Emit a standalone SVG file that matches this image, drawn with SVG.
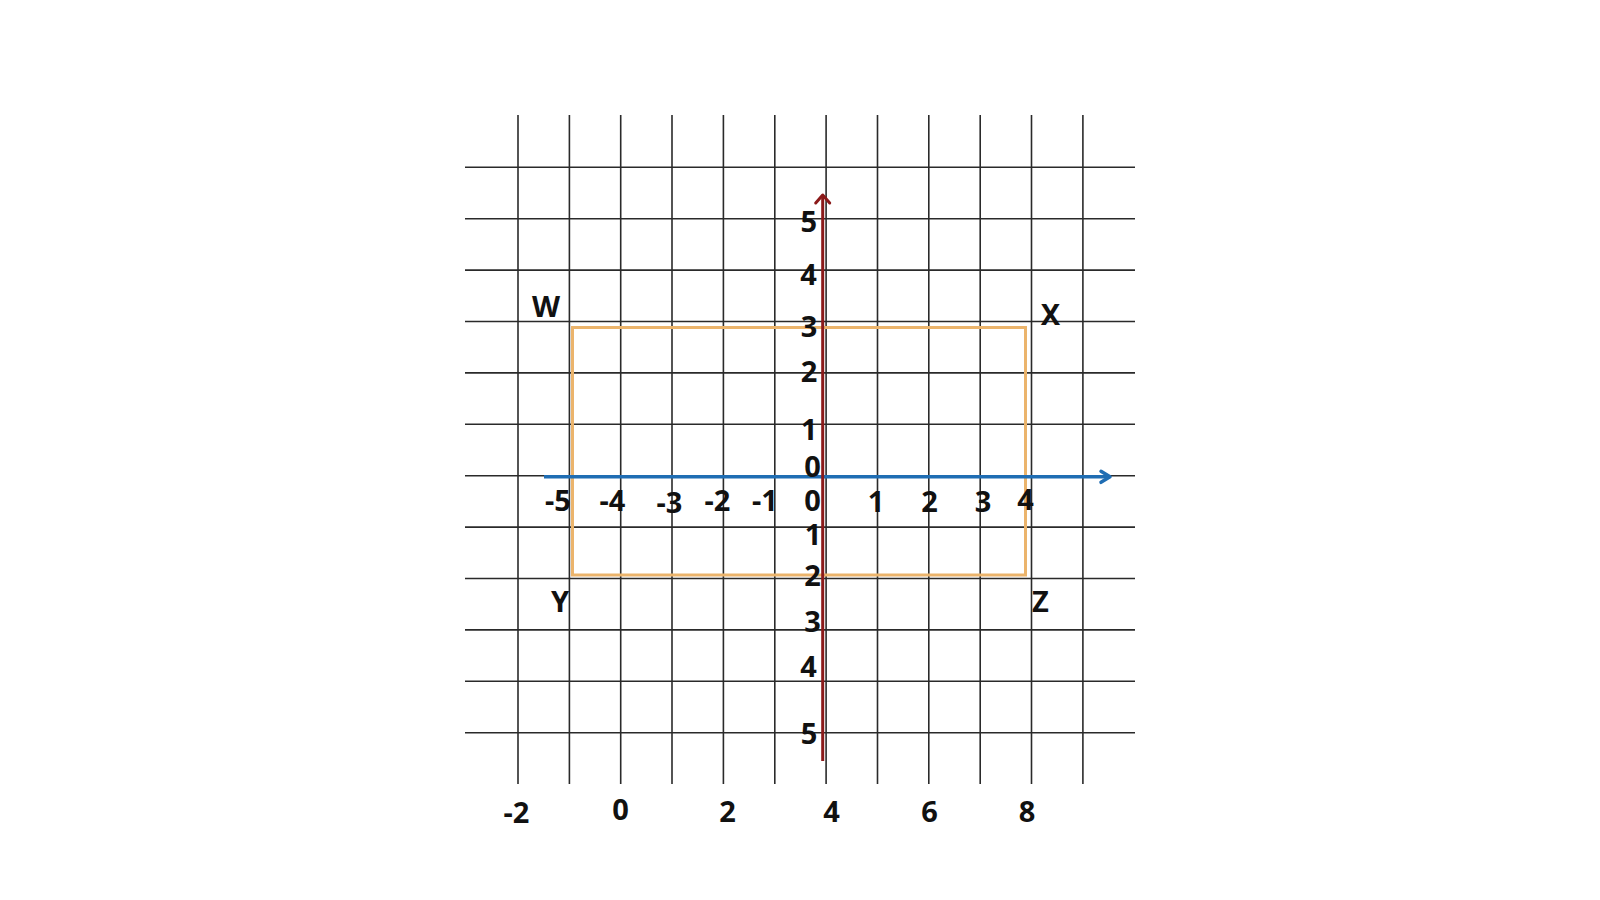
<svg xmlns="http://www.w3.org/2000/svg" width="1600" height="900" viewBox="0 0 1600 900">
  <style>
    .grid line { stroke: #2a2a2a; stroke-width: 1.6; }
    .lbl { font-family: "Noto Sans", "Liberation Sans", sans-serif; font-weight: bold; font-size: 29px; fill: #111; text-anchor: middle; }
  </style>
  <defs>
    <marker id="arrRed" markerUnits="userSpaceOnUse" markerWidth="20" markerHeight="20" refX="0" refY="0" orient="auto" overflow="visible">
      <path d="M -8 -7 L 0 0 L -8 7" fill="none" stroke="#8b1a1a" stroke-width="3" stroke-linecap="round" stroke-linejoin="round"/>
    </marker>
    <marker id="arrBlue" markerUnits="userSpaceOnUse" markerWidth="20" markerHeight="20" refX="0" refY="0" orient="auto" overflow="visible">
      <path d="M -9 -5.5 L 0 0 L -9 5.5" fill="none" stroke="#1f6db3" stroke-width="3.5" stroke-linecap="round" stroke-linejoin="round"/>
    </marker>
  </defs>
  <rect width="1600" height="900" fill="#ffffff"/>

  <g id="grid" class="grid">
    <line x1="518" y1="115" x2="518" y2="784"/>
    <line x1="569.4" y1="115" x2="569.4" y2="784"/>
    <line x1="620.7" y1="115" x2="620.7" y2="784"/>
    <line x1="672" y1="115" x2="672" y2="784"/>
    <line x1="723.4" y1="115" x2="723.4" y2="784"/>
    <line x1="774.8" y1="115" x2="774.8" y2="784"/>
    <line x1="826.1" y1="115" x2="826.1" y2="784"/>
    <line x1="877.5" y1="115" x2="877.5" y2="784"/>
    <line x1="928.8" y1="115" x2="928.8" y2="784"/>
    <line x1="980.2" y1="115" x2="980.2" y2="784"/>
    <line x1="1031.5" y1="115" x2="1031.5" y2="784"/>
    <line x1="1082.9" y1="115" x2="1082.9" y2="784"/>
    <line x1="465" y1="167.3" x2="1135" y2="167.3"/>
    <line x1="465" y1="218.7" x2="1135" y2="218.7"/>
    <line x1="465" y1="270.1" x2="1135" y2="270.1"/>
    <line x1="465" y1="321.5" x2="1135" y2="321.5"/>
    <line x1="465" y1="372.9" x2="1135" y2="372.9"/>
    <line x1="465" y1="424.3" x2="1135" y2="424.3"/>
    <line x1="465" y1="475.7" x2="1135" y2="475.7"/>
    <line x1="465" y1="527.1" x2="1135" y2="527.1"/>
    <line x1="465" y1="578.5" x2="1135" y2="578.5"/>
    <line x1="465" y1="629.9" x2="1135" y2="629.9"/>
    <line x1="465" y1="681.3" x2="1135" y2="681.3"/>
    <line x1="465" y1="732.7" x2="1135" y2="732.7"/>
  </g>

  <g id="rectangle-WXZY">
    <rect x="572.5" y="327.5" width="453" height="247.5" fill="none" stroke="#ebb46c" stroke-width="3"/>
  </g>

  <g id="connectors">
    <line id="x-axis" x1="544" y1="476.8" x2="1110" y2="476.8" stroke="#1f6db3" stroke-width="3.5" marker-end="url(#arrBlue)"/>
    <line id="y-axis" x1="822.7" y1="761" x2="822.7" y2="195" stroke="#8b1a1a" stroke-width="3" marker-end="url(#arrRed)"/>
  </g>

  <g id="y-labels">
    <text class="lbl" x="808.7" y="232">5</text>
    <text class="lbl" x="808.5" y="285">4</text>
    <text class="lbl" x="809" y="337">3</text>
    <text class="lbl" x="809" y="381.7">2</text>
    <text class="lbl" x="809" y="440">1</text>
    <text class="lbl" x="812.5" y="477">0</text>
    <text class="lbl" x="813" y="545">1</text>
    <text class="lbl" x="812.5" y="586">2</text>
    <text class="lbl" x="812.5" y="631.7">3</text>
    <text class="lbl" x="808.5" y="676.7">4</text>
    <text class="lbl" x="809" y="744">5</text>
  </g>

  <g id="x-labels">
    <text class="lbl" x="558" y="511">-5</text>
    <text class="lbl" x="612.5" y="511">-4</text>
    <text class="lbl" x="669.5" y="513">-3</text>
    <text class="lbl" x="717.5" y="511">-2</text>
    <text class="lbl" x="765" y="511">-1</text>
    <text class="lbl" x="812.5" y="511">0</text>
    <text class="lbl" x="876" y="512">1</text>
    <text class="lbl" x="929.5" y="512">2</text>
    <text class="lbl" x="983" y="512">3</text>
    <text class="lbl" x="1025.5" y="510">4</text>
  </g>

  <g id="vertex-labels">
    <text id="W" class="lbl" x="546" y="317">W</text>
    <text id="X" class="lbl" x="1050.5" y="325">X</text>
    <text id="Y" class="lbl" x="560" y="612">Y</text>
    <text id="Z" class="lbl" x="1040.5" y="612">Z</text>
  </g>

  <g id="bottom-labels">
    <text class="lbl" x="516.5" y="822.5">-2</text>
    <text class="lbl" x="620.5" y="819.5">0</text>
    <text class="lbl" x="727.5" y="822">2</text>
    <text class="lbl" x="831.5" y="822">4</text>
    <text class="lbl" x="929.5" y="822">6</text>
    <text class="lbl" x="1027" y="822">8</text>
  </g>
</svg>
